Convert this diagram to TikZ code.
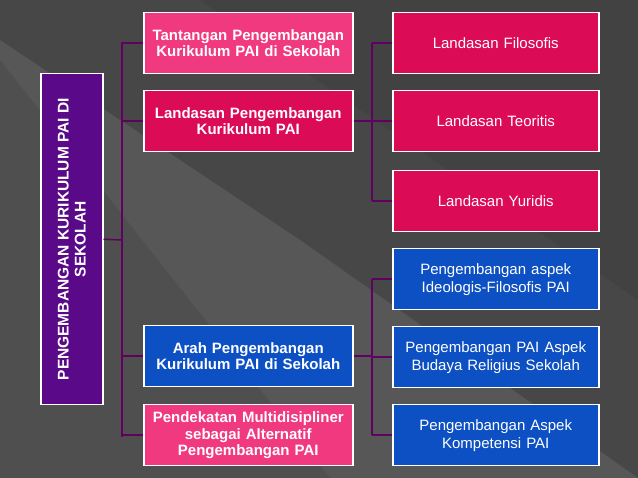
\documentclass[tikz,border=0pt]{standalone}
\usepackage{fontspec}
\setmainfont{Liberation Sans}
\begin{document}
\begin{tikzpicture}[x=1pt,y=-1pt,
 bx/.style={draw=white,line width=1.5pt,text=white,font=\bfseries\fontsize{15}{16.5}\selectfont,align=center,inner sep=1pt,minimum height=61pt},
 mid/.style={bx,minimum width=209pt,text width=207pt},
 rt/.style={bx,minimum width=206pt,text width=204pt,font=\fontsize{15}{18}\selectfont},
 conn/.style={draw=violet!75!black,line width=1.5pt}]
\useasboundingbox (0,0) rectangle (638,478);
\fill[black!72] (0,0) rectangle (638,478);
\fill[black!66] (0,40) -- (300,240) -- (638,478) -- (0,478) -- cycle;
\fill[black!69] (0,60) -- (330,478) -- (0,478) -- cycle;
\fill[black!74] (200,0) -- (638,300) -- (638,0) -- cycle;
\definecolor{pu}{HTML}{5A0A88}
\definecolor{p1}{HTML}{F0397F}
\definecolor{p2}{HTML}{DC0B55}
\definecolor{bl}{HTML}{0D50C4}
\node[bx,fill=pu,minimum width=62pt,minimum height=331pt,anchor=north west,inner sep=0pt] (root) at (40,73) {};
\node[text=white,font=\bfseries\fontsize{15.5}{17}\selectfont,align=center,rotate=90] at (root.center) {PENGEMBANGAN KURIKULUM PAI DI\\SEKOLAH};
\node[mid,fill=p1,anchor=north west] (m1) at (143,12) {Tantangan Pengembangan\\Kurikulum PAI di Sekolah};
\node[mid,fill=p2,anchor=north west] (m2) at (143,90) {Landasan Pengembangan\\Kurikulum PAI};
\node[mid,fill=bl,anchor=north west] (m3) at (143,325) {Arah Pengembangan\\Kurikulum PAI di Sekolah};
\node[mid,fill=p1,anchor=north west] (m4) at (143,404) {Pendekatan Multidisipliner\\sebagai Alternatif\\Pengembangan PAI};
\node[rt,fill=p2,anchor=north west] (r1) at (392,12) {Landasan Filosofis};
\node[rt,fill=p2,anchor=north west] (r2) at (392,90) {Landasan Teoritis};
\node[rt,fill=p2,anchor=north west] (r3) at (392,170) {Landasan Yuridis};
\node[rt,fill=bl,anchor=north west] (r4) at (392,248) {Pengembangan aspek\\Ideologis-Filosofis PAI};
\node[rt,fill=bl,anchor=north west] (r5) at (392,326) {Pengembangan PAI Aspek\\Budaya Religius Sekolah};
\node[rt,fill=bl,anchor=north west] (r6) at (392,404) {Pengembangan Aspek\\Kompetensi PAI};
\draw[conn] (root.east) -- (122,240);
\draw[conn] (122,42) -- (122,437);
\foreach \m in {m1,m2,m3,m4} \draw[conn] (122,0 |- \m.west) -- (\m.west);
\draw[conn] (m2.east) -- (372,0 |- m2.east);
\draw[conn] (372,0 |- r1.west) -- (372,0 |- r3.west);
\foreach \r in {r1,r2,r3} \draw[conn] (372,0 |- \r.west) -- (\r.west);
\draw[conn] (m3.east) -- (372,0 |- m3.east);
\draw[conn] (372,0 |- r4.west) -- (372,0 |- r6.west);
\foreach \r in {r4,r5,r6} \draw[conn] (372,0 |- \r.west) -- (\r.west);
\end{tikzpicture}
\end{document}
